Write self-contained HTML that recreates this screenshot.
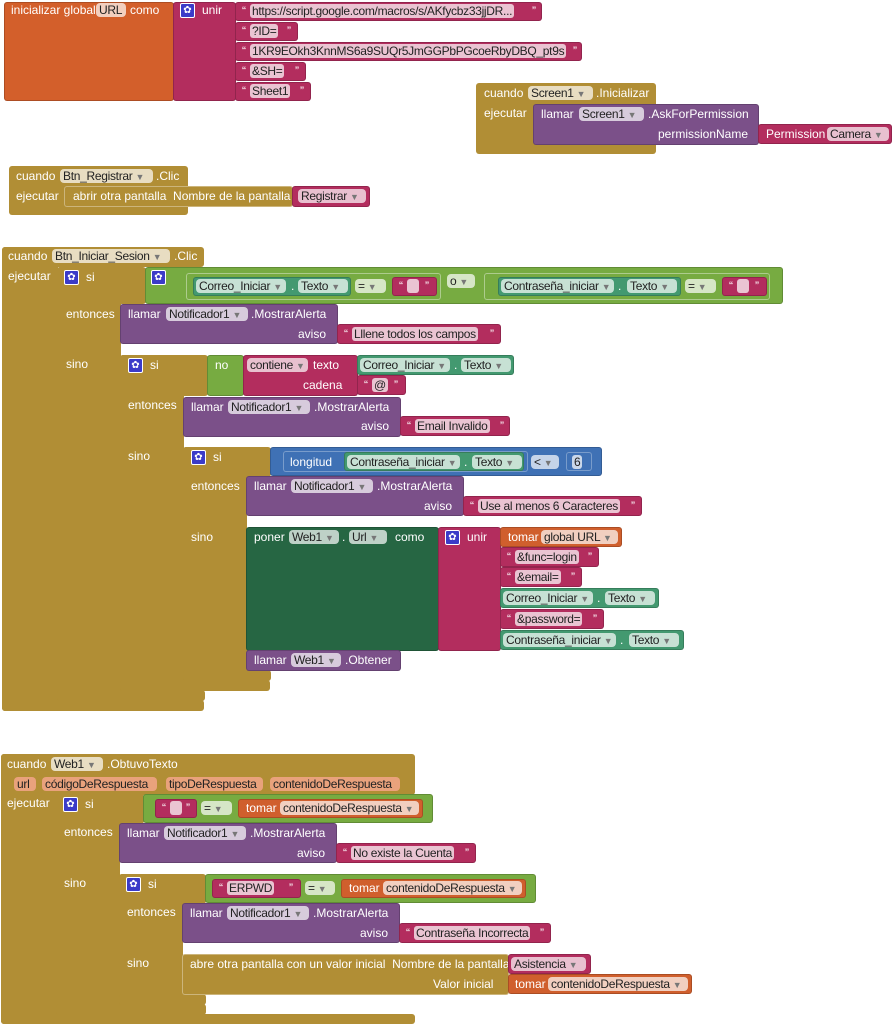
<!DOCTYPE html><html><head><meta charset="utf-8"><style>
body{margin:0;width:893px;height:1024px;background:#fff;position:relative;overflow:hidden;font-family:"Liberation Sans",sans-serif;font-size:12px}
.b{position:absolute;box-sizing:border-box;border:1px solid rgba(0,0,0,.18);border-radius:3px}
.g{background:#b18e35;border:none}.pu{background:#7b5089}.r{background:#b32d5e}.gr{background:#77ab41}.te{background:#439970}.bl{background:#3f71b5}.o{background:#d05f2d}.dg{background:#266643}.o1{background:#d35f2b}
.t{position:absolute;color:#fff;line-height:14px;white-space:nowrap}
.p{position:absolute;height:14px;line-height:14px;padding:0 3px;border-radius:4px;background:rgba(255,255,255,.7);color:#222;white-space:nowrap;box-sizing:border-box;letter-spacing:-0.3px}
.s{position:absolute;height:14px;line-height:14px;padding:0 2px;border-radius:3px;background:rgba(255,255,255,.72);color:#222;white-space:nowrap;letter-spacing:-0.3px}
.a{color:#777;font-size:9px}
.gear{position:absolute;width:13px;height:13px;background:#3b3bc8;border:1px solid #fff;border-radius:2px;color:#fff;font-size:10px;line-height:13px;text-align:center}
</style><style>.p[style*="width"]{}</style></head><body>

<!-- block 1 -->
<div class="b o1" style="left:4px;top:2px;width:170px;height:99px"></div>
<span class="t" style="left:11px;top:3px">inicializar global</span>
<span class="p" style="left:96px;top:3px;min-width:30px">URL</span>
<span class="t" style="left:130px;top:3px">como</span>
<div class="b r" style="left:173px;top:2px;width:63px;height:99px"></div>
<span class="gear" style="left:180px;top:3px">✿</span><span class="t" style="left:202px;top:3px">unir</span>
<div class="b r" style="left:235px;top:2px;width:307px;height:19px"></div><span class="t" style="left:242px;top:4px">“</span><span class="s" style="left:250px;top:4px">https://script.google.com/macros/s/AKfycbz33jjDR...</span><span class="t" style="left:532px;top:4px">”</span>
<div class="b r" style="left:235px;top:22px;width:63px;height:19px"></div><span class="t" style="left:242px;top:24px">“</span><span class="s" style="left:250px;top:24px">?ID=</span><span class="t" style="left:287px;top:24px">”</span>
<div class="b r" style="left:235px;top:42px;width:347px;height:19px"></div><span class="t" style="left:242px;top:44px">“</span><span class="s" style="left:250px;top:44px">1KR9EOkh3KnnMS6a9SUQr5JmGGPbPGcoeRbyDBQ_pt9s</span><span class="t" style="left:573px;top:44px">”</span>
<div class="b r" style="left:235px;top:62px;width:71px;height:19px"></div><span class="t" style="left:242px;top:64px">“</span><span class="s" style="left:250px;top:64px">&amp;SH=</span><span class="t" style="left:295px;top:64px">”</span>
<div class="b r" style="left:235px;top:82px;width:76px;height:19px"></div><span class="t" style="left:242px;top:84px">“</span><span class="s" style="left:250px;top:84px">Sheet1</span><span class="t" style="left:300px;top:84px">”</span>

<!-- Screen1 -->
<div class="b g" style="left:476px;top:83px;width:180px;height:71px"></div>
<span class="t" style="left:484px;top:86px">cuando</span><span class="p" style="left:528px;top:86px;min-width:65px">Screen1 <span class="a">▼</span></span><span class="t" style="left:596px;top:86px">.Inicializar</span>
<span class="t" style="left:484px;top:106px">ejecutar</span>
<div class="b pu" style="left:533px;top:104px;width:226px;height:41px"></div>
<span class="t" style="left:541px;top:107px">llamar</span><span class="p" style="left:579px;top:107px;min-width:65px">Screen1 <span class="a">▼</span></span><span class="t" style="left:648px;top:107px">.AskForPermission</span>
<span class="t" style="left:658px;top:127px">permissionName</span>
<div class="b r" style="left:758px;top:124px;width:134px;height:20px"></div><span class="t" style="left:766px;top:127px">Permission</span><span class="p" style="left:827px;top:127px;min-width:62px">Camera <span class="a">▼</span></span>

<!-- Btn_Registrar -->
<div class="b g" style="left:9px;top:166px;width:179px;height:49px"></div>
<span class="t" style="left:16px;top:169px">cuando</span><span class="p" style="left:60px;top:169px;min-width:93px">Btn_Registrar <span class="a">▼</span></span><span class="t" style="left:156px;top:169px">.Clic</span>
<span class="t" style="left:16px;top:189px">ejecutar</span>
<div class="b" style="left:64px;top:186px;width:229px;height:21px;background:#b18e35;border-color:rgba(255,255,255,.35)"></div>
<span class="t" style="left:73px;top:189px">abrir otra pantalla&nbsp; Nombre de la pantalla</span>
<div class="b r" style="left:292px;top:186px;width:78px;height:21px"></div><span class="p" style="left:298px;top:189px;min-width:68px">Registrar <span class="a">▼</span></span>

<!-- Btn_Iniciar_Sesion -->
<div class="b g" style="left:2px;top:247px;width:202px;height:20px"></div>
<div class="b g" style="left:2px;top:247px;width:56px;height:464px"></div>
<div class="b g" style="left:2px;top:700px;width:202px;height:11px"></div>
<span class="t" style="left:8px;top:249px">cuando</span><span class="p" style="left:52px;top:249px;min-width:118px">Btn_Iniciar_Sesion <span class="a">▼</span></span><span class="t" style="left:174px;top:249px">.Clic</span>
<span class="t" style="left:8px;top:269px">ejecutar</span>
<!-- if1 -->
<div class="b g" style="left:57px;top:267px;width:89px;height:37px"></div>
<div class="b g" style="left:57px;top:267px;width:64px;height:434px"></div>
<div class="b g" style="left:57px;top:690px;width:148px;height:11px"></div>
<span class="gear" style="left:64px;top:270px">✿</span><span class="t" style="left:86px;top:270px">si</span>
<span class="t" style="left:66px;top:307px">entonces</span><span class="t" style="left:66px;top:357px">sino</span>
<div class="b gr" style="left:145px;top:267px;width:638px;height:37px"></div>
<span class="gear" style="left:151px;top:270px">✿</span>
<div class="b gr" style="left:186px;top:273px;width:255px;height:27px;border-color:rgba(255,255,255,.4)"></div>
<div class="b te" style="left:193px;top:277px;width:158px;height:19px"></div><span class="p" style="left:196px;top:279px;min-width:90px">Correo_Iniciar <span class="a">▼</span></span><span class="t" style="left:291px;top:279px">.</span><span class="p" style="left:298px;top:279px;min-width:50px">Texto <span class="a">▼</span></span>
<span class="p" style="left:355px;top:279px;min-width:31px">= <span class="a">▼</span></span>
<div class="b r" style="left:392px;top:277px;width:45px;height:19px"></div><span class="t" style="left:399px;top:279px">“</span><span class="s" style="left:407px;top:279px;width:8px"></span><span class="t" style="left:425px;top:279px">”</span>
<span class="p" style="left:447px;top:274px;min-width:28px">o <span class="a">▼</span></span>
<div class="b gr" style="left:484px;top:273px;width:286px;height:27px;border-color:rgba(255,255,255,.4)"></div>
<div class="b te" style="left:498px;top:277px;width:183px;height:19px"></div><span class="p" style="left:501px;top:279px;min-width:113px">Contraseña_iniciar <span class="a">▼</span></span><span class="t" style="left:618px;top:279px">.</span><span class="p" style="left:627px;top:279px;min-width:50px">Texto <span class="a">▼</span></span>
<span class="p" style="left:685px;top:279px;min-width:31px">= <span class="a">▼</span></span>
<div class="b r" style="left:722px;top:277px;width:45px;height:19px"></div><span class="t" style="left:729px;top:279px">“</span><span class="s" style="left:737px;top:279px;width:8px"></span><span class="t" style="left:755px;top:279px">”</span>
<div class="b pu" style="left:120px;top:304px;width:218px;height:40px"></div>
<span class="t" style="left:128px;top:307px">llamar</span><span class="p" style="left:166px;top:307px;min-width:82px">Notificador1 <span class="a">▼</span></span><span class="t" style="left:251px;top:307px">.MostrarAlerta</span>
<span class="t" style="left:298px;top:327px">aviso</span>
<div class="b r" style="left:337px;top:324px;width:164px;height:20px"></div><span class="t" style="left:344px;top:327px">“</span><span class="s" style="left:352px;top:327px">Lllene todos los campos</span><span class="t" style="left:490px;top:327px">”</span>
<!-- if2 -->
<div class="b g" style="left:120px;top:355px;width:88px;height:41px"></div>
<div class="b g" style="left:120px;top:355px;width:64px;height:336px"></div>
<div class="b g" style="left:120px;top:680px;width:150px;height:11px"></div>
<span class="gear" style="left:128px;top:358px">✿</span><span class="t" style="left:150px;top:358px">si</span>
<div class="b gr" style="left:207px;top:355px;width:37px;height:41px"></div><span class="t" style="left:215px;top:358px">no</span>
<div class="b r" style="left:243px;top:355px;width:115px;height:41px"></div>
<span class="p" style="left:247px;top:358px;min-width:61px">contiene <span class="a">▼</span></span><span class="t" style="left:313px;top:358px">texto</span>
<span class="t" style="left:303px;top:378px">cadena</span>
<div class="b te" style="left:357px;top:355px;width:157px;height:20px"></div><span class="p" style="left:360px;top:358px;min-width:90px">Correo_Iniciar <span class="a">▼</span></span><span class="t" style="left:454px;top:358px">.</span><span class="p" style="left:461px;top:358px;min-width:50px">Texto <span class="a">▼</span></span>
<div class="b r" style="left:357px;top:375px;width:49px;height:20px"></div><span class="t" style="left:364px;top:378px">“</span><span class="s" style="left:372px;top:378px">@</span><span class="t" style="left:394px;top:378px">”</span>
<span class="t" style="left:128px;top:398px">entonces</span>
<div class="b pu" style="left:183px;top:397px;width:218px;height:40px"></div>
<span class="t" style="left:191px;top:400px">llamar</span><span class="p" style="left:228px;top:400px;min-width:82px">Notificador1 <span class="a">▼</span></span><span class="t" style="left:314px;top:400px">.MostrarAlerta</span>
<span class="t" style="left:361px;top:419px">aviso</span>
<div class="b r" style="left:400px;top:416px;width:110px;height:20px"></div><span class="t" style="left:407px;top:419px">“</span><span class="s" style="left:415px;top:419px">Email Invalido</span><span class="t" style="left:500px;top:419px">”</span>
<span class="t" style="left:128px;top:449px">sino</span>
<!-- if3 -->
<div class="b g" style="left:183px;top:447px;width:88px;height:30px"></div>
<div class="b g" style="left:183px;top:447px;width:64px;height:234px"></div>
<div class="b g" style="left:183px;top:670px;width:88px;height:11px"></div>
<span class="gear" style="left:191px;top:450px">✿</span><span class="t" style="left:213px;top:450px">si</span>
<div class="b bl" style="left:270px;top:447px;width:332px;height:29px"></div>
<div class="b bl" style="left:283px;top:451px;width:245px;height:21px;border-color:rgba(255,255,255,.3)"></div>
<span class="t" style="left:290px;top:455px">longitud</span>
<div class="b te" style="left:344px;top:452px;width:180px;height:19px"></div><span class="p" style="left:347px;top:455px;min-width:113px">Contraseña_iniciar <span class="a">▼</span></span><span class="t" style="left:464px;top:455px">.</span><span class="p" style="left:472px;top:455px;min-width:50px">Texto <span class="a">▼</span></span>
<span class="p" style="left:531px;top:455px;min-width:28px">&lt; <span class="a">▼</span></span>
<div class="b bl" style="left:566px;top:452px;width:26px;height:19px;border-color:rgba(255,255,255,.3)"></div><span class="s" style="left:572px;top:455px">6</span>
<span class="t" style="left:191px;top:479px">entonces</span>
<div class="b pu" style="left:246px;top:476px;width:218px;height:40px"></div>
<span class="t" style="left:254px;top:479px">llamar</span><span class="p" style="left:291px;top:479px;min-width:82px">Notificador1 <span class="a">▼</span></span><span class="t" style="left:377px;top:479px">.MostrarAlerta</span>
<span class="t" style="left:424px;top:499px">aviso</span>
<div class="b r" style="left:463px;top:496px;width:179px;height:20px"></div><span class="t" style="left:470px;top:499px">“</span><span class="s" style="left:478px;top:499px">Use al menos 6 Caracteres</span><span class="t" style="left:631px;top:499px">”</span>
<span class="t" style="left:191px;top:530px">sino</span>
<div class="b dg" style="left:246px;top:527px;width:193px;height:124px"></div>
<span class="t" style="left:254px;top:530px">poner</span><span class="p" style="left:289px;top:530px;min-width:50px">Web1 <span class="a">▼</span></span><span class="t" style="left:342px;top:530px">.</span><span class="p" style="left:349px;top:530px;min-width:38px">Url <span class="a">▼</span></span><span class="t" style="left:395px;top:530px">como</span>
<div class="b r" style="left:438px;top:527px;width:63px;height:124px"></div>
<span class="gear" style="left:445px;top:530px">✿</span><span class="t" style="left:467px;top:530px">unir</span>
<div class="b o" style="left:500px;top:527px;width:122px;height:20px"></div><span class="t" style="left:508px;top:530px">tomar</span><span class="p" style="left:541px;top:530px;min-width:77px">global URL <span class="a">▼</span></span>
<div class="b r" style="left:500px;top:547px;width:99px;height:20px"></div><span class="t" style="left:507px;top:550px">“</span><span class="s" style="left:515px;top:550px">&amp;func=login</span><span class="t" style="left:588px;top:550px">”</span>
<div class="b r" style="left:500px;top:567px;width:82px;height:20px"></div><span class="t" style="left:507px;top:570px">“</span><span class="s" style="left:515px;top:570px">&amp;email=</span><span class="t" style="left:571px;top:570px">”</span>
<div class="b te" style="left:500px;top:588px;width:159px;height:20px"></div><span class="p" style="left:503px;top:591px;min-width:90px">Correo_Iniciar <span class="a">▼</span></span><span class="t" style="left:597px;top:591px">.</span><span class="p" style="left:605px;top:591px;min-width:50px">Texto <span class="a">▼</span></span>
<div class="b r" style="left:500px;top:609px;width:104px;height:20px"></div><span class="t" style="left:507px;top:612px">“</span><span class="s" style="left:515px;top:612px">&amp;password=</span><span class="t" style="left:593px;top:612px">”</span>
<div class="b te" style="left:500px;top:630px;width:184px;height:20px"></div><span class="p" style="left:503px;top:633px;min-width:113px">Contraseña_iniciar <span class="a">▼</span></span><span class="t" style="left:620px;top:633px">.</span><span class="p" style="left:629px;top:633px;min-width:50px">Texto <span class="a">▼</span></span>
<div class="b pu" style="left:246px;top:650px;width:155px;height:21px"></div>
<span class="t" style="left:254px;top:653px">llamar</span><span class="p" style="left:291px;top:653px;min-width:50px">Web1 <span class="a">▼</span></span><span class="t" style="left:345px;top:653px">.Obtener</span>

<!-- Web1.ObtuvoTexto -->
<div class="b g" style="left:1px;top:754px;width:414px;height:41px"></div>
<div class="b g" style="left:1px;top:754px;width:56px;height:270px"></div>
<div class="b g" style="left:1px;top:1014px;width:414px;height:10px"></div>
<span class="t" style="left:7px;top:757px">cuando</span><span class="p" style="left:51px;top:757px;min-width:52px">Web1 <span class="a">▼</span></span><span class="t" style="left:107px;top:757px">.ObtuvoTexto</span>
<span class="p" style="left:14px;top:777px;min-width:22px;background:#e9a27c">url</span>
<span class="p" style="left:42px;top:777px;min-width:115px;background:#e9a27c">códigoDeRespuesta</span>
<span class="p" style="left:166px;top:777px;min-width:97px;background:#e9a27c">tipoDeRespuesta</span>
<span class="p" style="left:270px;top:777px;min-width:130px;background:#e9a27c">contenidoDeRespuesta</span>
<span class="t" style="left:7px;top:796px">ejecutar</span>
<div class="b g" style="left:56px;top:794px;width:88px;height:30px"></div>
<div class="b g" style="left:56px;top:794px;width:64px;height:221px"></div>
<div class="b g" style="left:56px;top:1004px;width:150px;height:11px"></div>
<span class="gear" style="left:63px;top:797px">✿</span><span class="t" style="left:85px;top:797px">si</span>
<div class="b gr" style="left:143px;top:794px;width:290px;height:29px"></div>
<div class="b r" style="left:155px;top:799px;width:42px;height:19px"></div><span class="t" style="left:162px;top:801px">“</span><span class="s" style="left:170px;top:801px;width:8px"></span><span class="t" style="left:186px;top:801px">”</span>
<span class="p" style="left:201px;top:801px;min-width:31px">= <span class="a">▼</span></span>
<div class="b o" style="left:238px;top:799px;width:185px;height:19px"></div><span class="t" style="left:246px;top:801px">tomar</span><span class="p" style="left:280px;top:801px;min-width:139px">contenidoDeRespuesta <span class="a">▼</span></span>
<span class="t" style="left:64px;top:825px">entonces</span>
<div class="b pu" style="left:119px;top:823px;width:218px;height:40px"></div>
<span class="t" style="left:127px;top:826px">llamar</span><span class="p" style="left:164px;top:826px;min-width:82px">Notificador1 <span class="a">▼</span></span><span class="t" style="left:250px;top:826px">.MostrarAlerta</span>
<span class="t" style="left:297px;top:846px">aviso</span>
<div class="b r" style="left:336px;top:843px;width:140px;height:20px"></div><span class="t" style="left:343px;top:846px">“</span><span class="s" style="left:351px;top:846px">No existe la Cuenta</span><span class="t" style="left:465px;top:846px">”</span>
<span class="t" style="left:64px;top:876px">sino</span>
<div class="b g" style="left:119px;top:874px;width:87px;height:30px"></div>
<div class="b g" style="left:119px;top:874px;width:64px;height:131px"></div>
<div class="b g" style="left:119px;top:994px;width:87px;height:11px"></div>
<span class="gear" style="left:126px;top:877px">✿</span><span class="t" style="left:148px;top:877px">si</span>
<div class="b gr" style="left:205px;top:874px;width:331px;height:29px"></div>
<div class="b r" style="left:212px;top:879px;width:89px;height:19px"></div><span class="t" style="left:219px;top:881px">“</span><span class="s" style="left:227px;top:881px">ERPWD</span><span class="t" style="left:289px;top:881px">”</span>
<span class="p" style="left:305px;top:881px;min-width:30px">= <span class="a">▼</span></span>
<div class="b o" style="left:341px;top:879px;width:185px;height:19px"></div><span class="t" style="left:349px;top:881px">tomar</span><span class="p" style="left:383px;top:881px;min-width:139px">contenidoDeRespuesta <span class="a">▼</span></span>
<span class="t" style="left:127px;top:905px">entonces</span>
<div class="b pu" style="left:182px;top:903px;width:218px;height:40px"></div>
<span class="t" style="left:190px;top:906px">llamar</span><span class="p" style="left:227px;top:906px;min-width:82px">Notificador1 <span class="a">▼</span></span><span class="t" style="left:313px;top:906px">.MostrarAlerta</span>
<span class="t" style="left:360px;top:926px">aviso</span>
<div class="b r" style="left:399px;top:923px;width:152px;height:20px"></div><span class="t" style="left:406px;top:926px">“</span><span class="s" style="left:414px;top:926px">Contraseña Incorrecta</span><span class="t" style="left:540px;top:926px">”</span>
<span class="t" style="left:127px;top:956px">sino</span>
<div class="b" style="left:182px;top:954px;width:327px;height:41px;background:#b18e35;border-color:rgba(255,255,255,.35)"></div>
<span class="t" style="left:190px;top:957px">abre otra pantalla con un valor inicial&nbsp; Nombre de la pantalla</span>
<span class="t" style="left:433px;top:977px">Valor inicial</span>
<div class="b r" style="left:508px;top:954px;width:83px;height:20px"></div><span class="p" style="left:511px;top:957px;min-width:75px">Asistencia <span class="a">▼</span></span>
<div class="b o" style="left:508px;top:974px;width:184px;height:20px"></div><span class="t" style="left:515px;top:977px">tomar</span><span class="p" style="left:548px;top:977px;min-width:140px">contenidoDeRespuesta <span class="a">▼</span></span>
</body></html>
